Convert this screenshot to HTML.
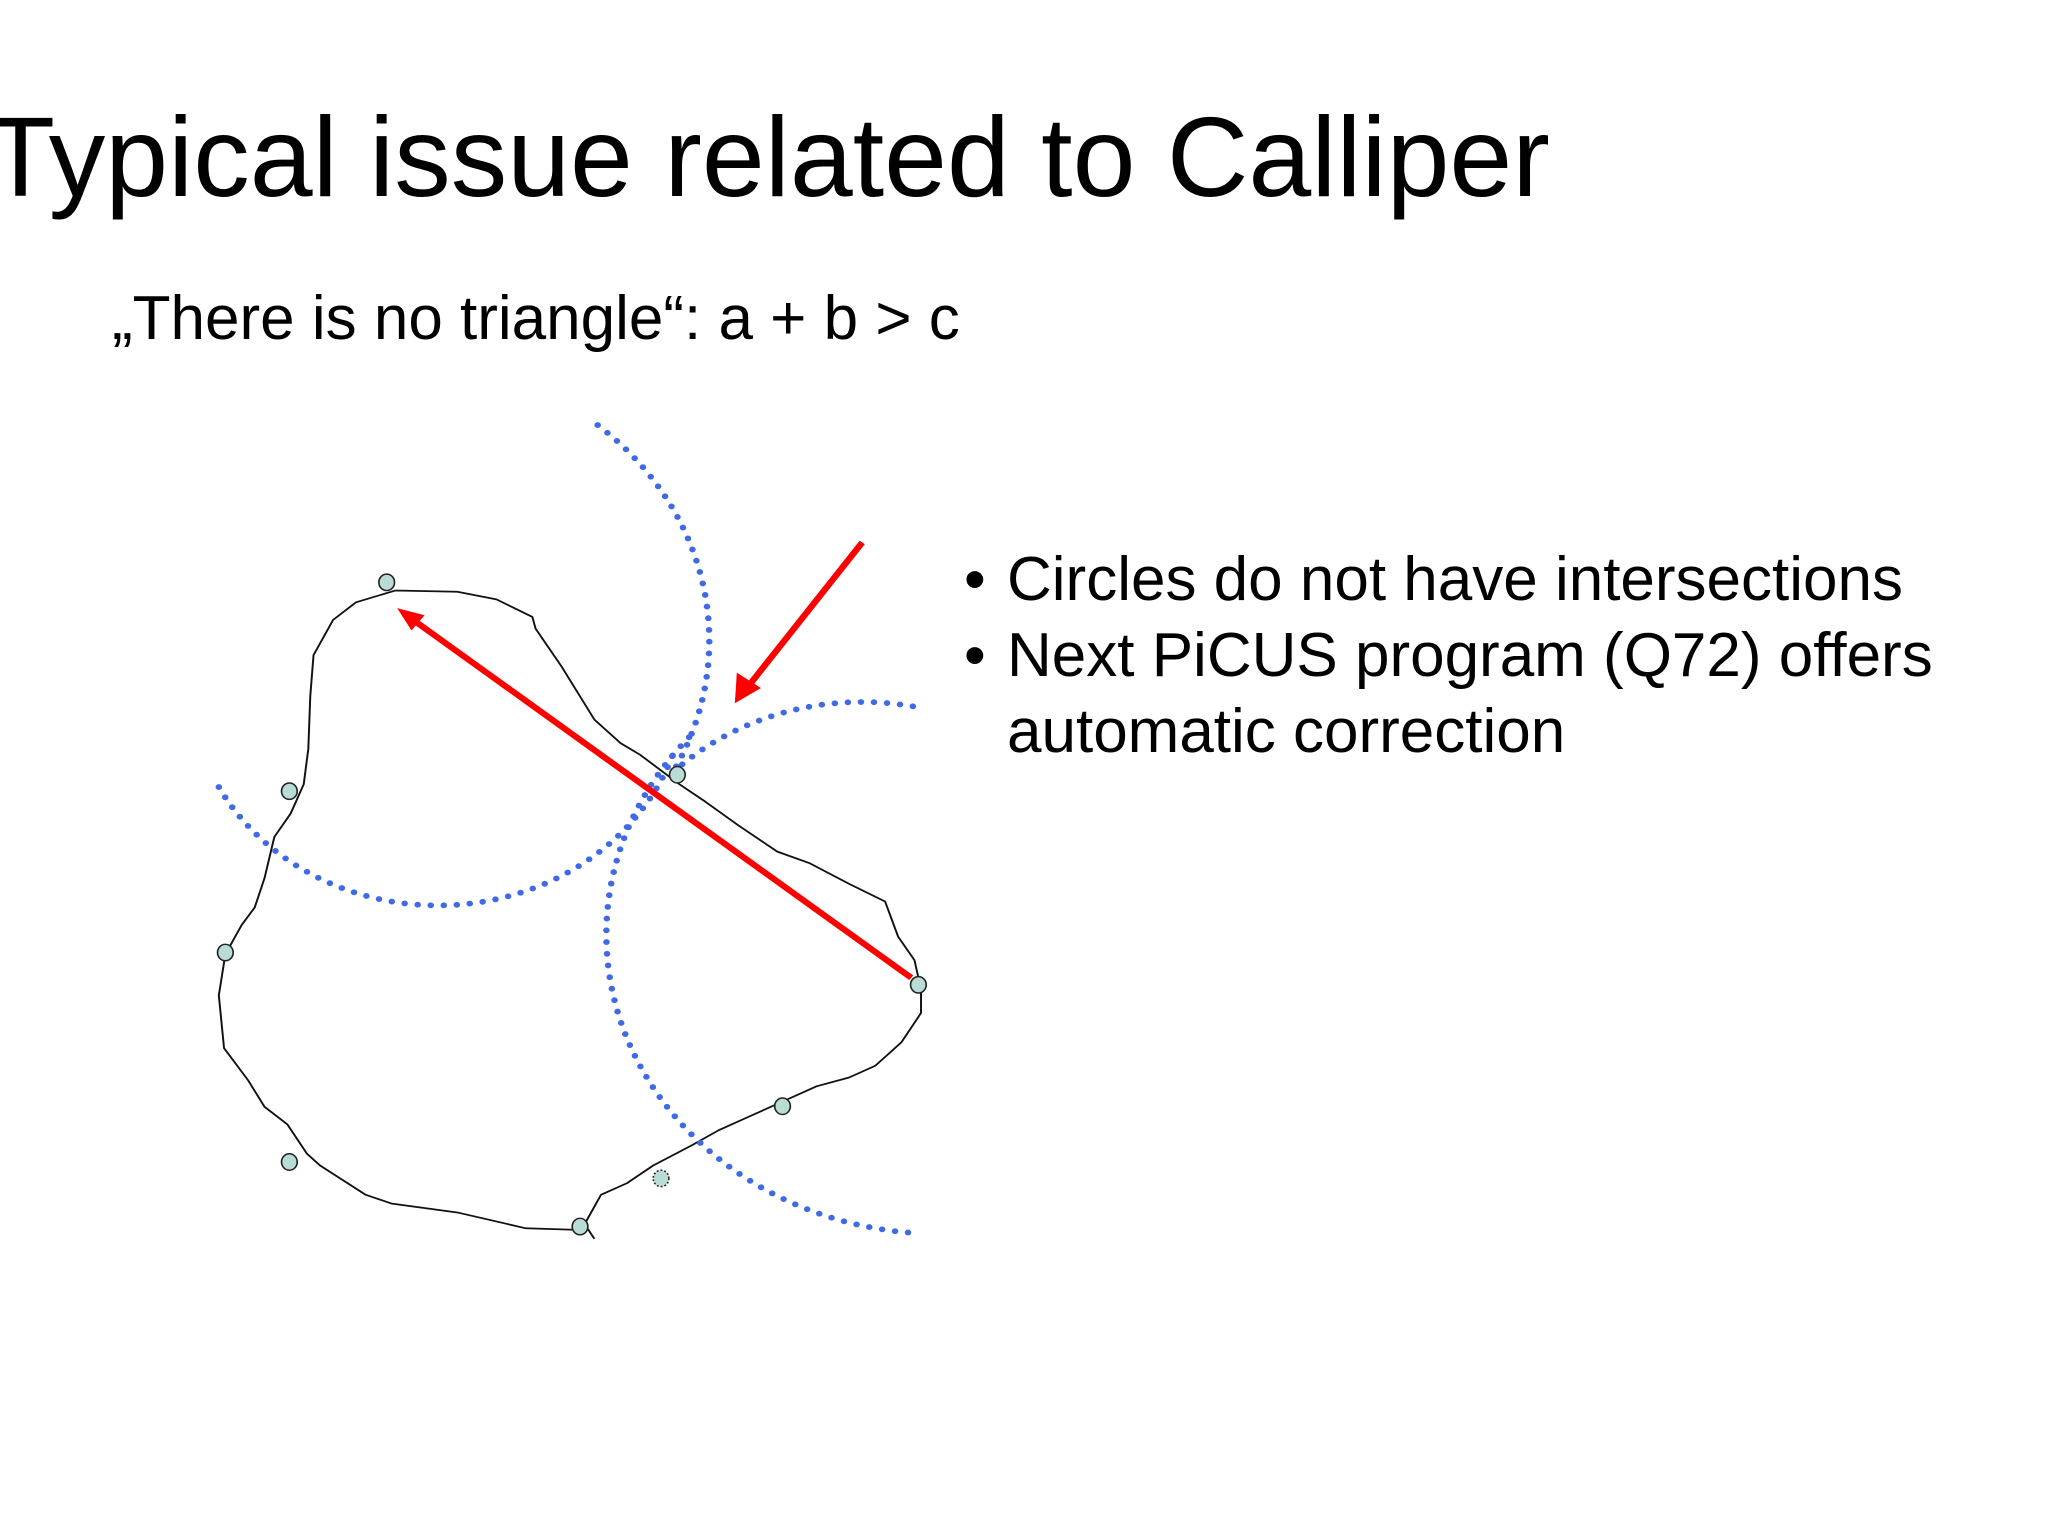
<!DOCTYPE html>
<html><head><meta charset="utf-8"><style>
html,body{margin:0;padding:0;background:#fff;}
body{width:2048px;height:1536px;position:relative;overflow:hidden;font-family:"Liberation Sans",Arial,sans-serif;color:#000;}
.t{position:absolute;white-space:nowrap;line-height:1;}
</style></head><body>
<div class="t" style="left:-14px;top:101px;font-size:113px;">Typical issue related to Calliper</div>
<div class="t" style="left:112px;top:288px;font-size:62px;">„There is no triangle“: a + b &gt; c</div>
<div class="t" style="left:964px;top:549px;font-size:62px;">•</div>
<div class="t" style="left:1007px;top:549px;font-size:62px;">Circles do not have intersections</div>
<div class="t" style="left:964px;top:625px;font-size:62px;">•</div>
<div class="t" style="left:1007px;top:625px;font-size:62px;">Next PiCUS program (Q72) offers</div>
<div class="t" style="left:1007px;top:701px;font-size:62px;">automatic correction</div>
<svg width="2048" height="1536" style="position:absolute;left:0;top:0">
<g transform="translate(0,350) scale(0.6532,0.5867)">
<path d="M605,410 L700,412 L760,425 L815,455 L820,475 L860,540 L910,630 L950,670 L980,690 L1040,740 L1080,770 L1130,810 L1190,855 L1240,875 L1300,910 L1355,940 L1375,1000 L1400,1040 L1410,1090 L1410,1130 L1380,1180 L1340,1220 L1300,1240 L1250,1255 L1200,1280 L1150,1305 L1100,1330 L1060,1355 L1000,1390 L960,1420 L920,1440 L905,1470 L895,1490 L910,1515 M890,1500 L805,1497 L700,1470 L600,1455 L560,1440 L490,1390 L470,1370 L440,1320 L405,1290 L380,1245 L343,1190 L335,1100 L345,1030 L370,980 L390,950 L405,900 L420,830 L445,790 L465,740 L472,680 L475,590 L480,520 L510,460 L545,430 L605,410" fill="none" stroke="#111" stroke-width="3" stroke-linejoin="round"/>
<g fill="none" stroke="#3f6ae6" stroke-width="10" stroke-linecap="round" stroke-dasharray="0 20">
<path d="M915,128 A480,480 0 0 1 1030,720"/>
<path d="M1055,660 A510,510 0 0 0 1400,1505"/>
<path d="M335,745 A380,380 0 0 0 1030,690"/>
<path d="M1030,720 A410,410 0 0 1 1410,610"/>
</g>
<g stroke="#f00" stroke-width="10" fill="#f00">
<line x1="1395" y1="1070" x2="635" y2="462"/>
<polygon points="608,440 650,452 630,478" stroke="none"/>
<line x1="1320" y1="328" x2="1145" y2="574"/>
<polygon points="1125,602 1128,550 1165,576" stroke="none"/>
</g>
<g fill="#b9dcd6" stroke="#222" stroke-width="2.5">
<ellipse cx="592" cy="396" rx="12" ry="14"/>
<ellipse cx="443" cy="752" rx="12" ry="14"/>
<ellipse cx="345" cy="1027" rx="12" ry="14"/>
<ellipse cx="1037" cy="724" rx="12" ry="14"/>
<ellipse cx="1406" cy="1082" rx="12" ry="14"/>
<ellipse cx="1198" cy="1289" rx="12" ry="14"/>
<ellipse cx="443" cy="1384" rx="12" ry="14"/>
<ellipse cx="888" cy="1494" rx="12" ry="14"/>
<ellipse cx="1012" cy="1412" rx="12" ry="14" stroke-dasharray="3 3"/>
</g>
</g>
</svg>
</body></html>
